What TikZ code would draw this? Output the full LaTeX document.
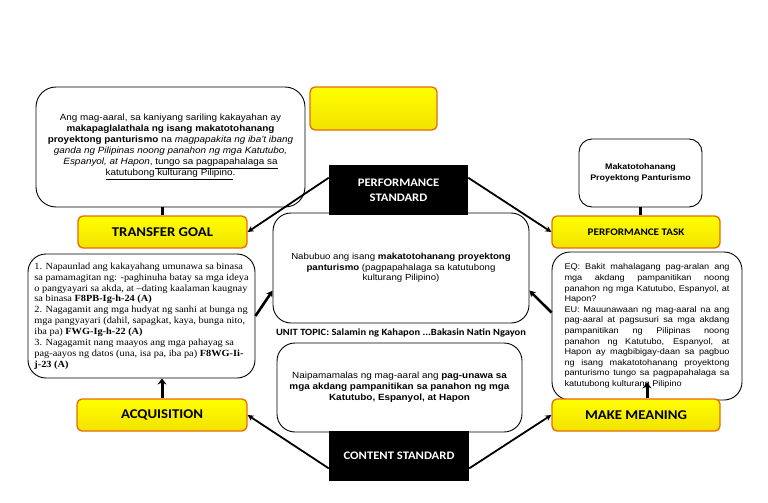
\documentclass[tikz,border=0pt]{standalone}
\usepackage{fontspec}
\setmainfont{Liberation Sans}[FakeStretch=1.1]
\newfontfamily\calfont{Carlito}[FakeStretch=1.1]
\newfontfamily\timesfont{Liberation Serif}[FakeStretch=1.1]
\usetikzlibrary{arrows.meta}
\definecolor{ybord}{HTML}{E36C0A}
\definecolor{yfill}{HTML}{FFFF00}
\definecolor{ylow}{HTML}{F2E200}
\tikzset{
  ybox/.style={draw=ybord, line width=1.3pt, top color=yfill, bottom color=ylow,
    rounded corners=5pt, inner sep=0pt, font=\calfont\bfseries\fontsize{13.4}{15}\selectfont},
  tbox/.style={draw=black, line width=0.9pt, rounded corners=18pt, fill=white, inner sep=0pt},
  bbox/.style={fill=black, text=white, inner sep=0pt, align=center,
    font=\calfont\bfseries\fontsize{11.5}{15}\selectfont},
  link/.style={line width=1.8pt, -{Stealth[length=6pt,width=6pt]}},
  biglink/.style={line width=2.6pt, -{Stealth[length=6pt,width=7pt]}},
  stem/.style={line width=3pt},
  uparrow/.style={line width=3pt, -{Stealth[length=6pt,width=9pt]}},
}
\begin{document}
\begin{tikzpicture}[x=1pt,y=-1pt]
\useasboundingbox (0,0) rectangle (768,503);

% transfer goal
\node[tbox, rounded corners=20pt, minimum width=269pt, minimum height=120pt, align=center,
  font=\fontsize{9}{11}\selectfont] (tgtext) at (170.5,147)
  {Ang mag-aaral, sa kaniyang sariling kakayahan ay\\
   \textbf{makapaglalathala ng isang makatotohanang}\\
   \textbf{proyektong panturismo} na \textit{magpapakita ng iba't ibang}\\
   \textit{ganda ng Pilipinas noong panahon ng mga Katutubo,}\\
   \textit{Espanyol, at Hapon}, \underline{tungo sa pagpapahalaga sa}\\
   \underline{katutubong kulturang Pilipino}.};
\node[ybox, minimum width=169pt, minimum height=32pt] (tg) at (162.5,232) {TRANSFER GOAL};

% empty yellow box
\node[ybox, minimum width=127pt, minimum height=43pt] (yel) at (373.5,108.5) {};

% centre boxes
\node[tbox, minimum width=256pt, minimum height=110pt, align=center,
  font=\fontsize{8.8}{10.3}\selectfont] (ctop) at (401,268)
  {Nabubuo ang isang \textbf{makatotohanang proyektong}\\
   \textbf{panturismo} (pagpapahalaga sa katutubong\\
   kulturang Pilipino)};
\node[bbox, minimum width=139pt, minimum height=50pt] (ps) at (398.5,190)
  {PERFORMANCE\\STANDARD};
\node[font=\calfont\bfseries\fontsize{9.55}{11}\selectfont] (unit) at (401,333)
  {UNIT TOPIC: Salamin ng Kahapon ...Bakasin Natin Ngayon};
\node[tbox, minimum width=245pt, minimum height=89pt, align=center,
  font=\fontsize{9}{11}\selectfont] (cbot) at (399.5,387.5)
  {Naipamamalas ng mag-aaral ang \textbf{pag-unawa sa}\\
   \textbf{mga akdang pampanitikan sa panahon ng mga}\\
   \textbf{Katutubo, Espanyol, at Hapon}};
\node[bbox, minimum width=140pt, minimum height=50pt] (cs) at (399,456)
  {CONTENT STANDARD};

% acquisition
\node[tbox, minimum width=227pt, minimum height=124pt, align=left,
  font=\timesfont\fontsize{9.4}{10.9}\selectfont] (acqtext) at (141.5,316)
  {1. Napaunlad ang kakayahang umunawa sa binasa\\
   sa pamamagitan ng: -paghinuha batay sa mga ideya\\
   o pangyayari sa akda, at –dating kaalaman kaugnay\\
   sa binasa \textbf{F8PB-Ig-h-24 (A)}\\
   2. Nagagamit ang mga hudyat ng sanhi at bunga ng\\
   mga pangyayari (dahil, sapagkat, kaya, bunga nito,\\
   iba pa) \textbf{FWG-Ig-h-22 (A)}\\
   3. Nagagamit nang maayos ang mga pahayag sa\\
   pag-aayos ng datos (una, isa pa, iba pa) \textbf{F8WG-Ii-}\\
   \textbf{j-23 (A)}};
\node[ybox, minimum width=170pt, minimum height=32pt] (acq) at (162,415) {ACQUISITION};

% performance task
\node[tbox, rounded corners=13pt, minimum width=123pt, minimum height=68pt, align=center,
  font=\bfseries\fontsize{8.1}{11}\selectfont] (pttext) at (640.5,173)
  {Makatotohanang\\Proyektong Panturismo};
\node[ybox, minimum width=168pt, minimum height=32pt,
  font=\calfont\bfseries\fontsize{10.1}{12}\selectfont] (pt) at (636,232) {PERFORMANCE TASK};

% make meaning
\node[tbox, minimum width=190pt, minimum height=148pt, text width=165pt, align=justify,
  font=\fontsize{8.3}{10.6}\selectfont] (mmtext) at (647,326)
  {\tolerance=10000\hbadness=10000
   EQ: Bakit mahalagang pag-aralan ang\linebreak
   mga akdang pampanitikan noong\linebreak
   panahon ng mga Katutubo, Espanyol, at\linebreak
   Hapon?\par
   EU: Mauunawaan ng mag-aaral na ang\linebreak
   pag-aaral at pagsusuri sa mga akdang\linebreak
   pampanitikan ng Pilipinas noong\linebreak
   panahon ng Katutubo, Espanyol, at\linebreak
   Hapon ay magbibigay-daan sa pagbuo\linebreak
   ng isang makatotohanang proyektong\linebreak
   panturismo tungo sa pagpapahalaga sa\linebreak
   katutubong kulturang Pilipino};
\node[ybox, minimum width=168pt, minimum height=32pt] (mm) at (636,415) {MAKE MEANING};

% connectors
\draw[stem] (tg.north) -- (tg.north |- tgtext.south);
\draw[stem] (pttext.south) -- (pttext.south |- pt.north);
\draw[uparrow] (acq.north) -- (acq.north |- acqtext.south);
\coordinate (mmtip) at ([yshift=16pt]mmtext.south |- mm.north);
\draw[uparrow] (mmtext.south |- mm.north) -- (mmtip);

\draw[link] (ps.170) -- (tg.east);
\draw[link] (ps.10) -- (pt.west);
\draw[link] (cs.190) -- (acq.east);
\draw[link] (cs.350) -- (mm.west);
\draw[biglink] (acqtext.east) -- (ctop.190);
\draw[biglink] (mmtext.172) -- (ctop.350);
\end{tikzpicture}
\end{document}
